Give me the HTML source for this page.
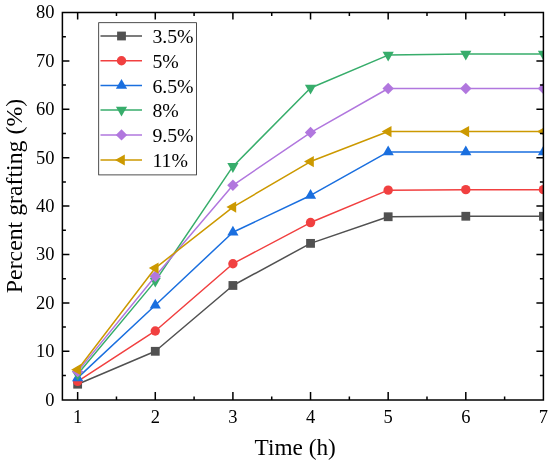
<!DOCTYPE html>
<html><head><meta charset="utf-8"><title>Percent grafting vs Time</title>
<style>html,body{margin:0;padding:0;background:#fff}svg{display:block}</style></head>
<body>
<svg width="550" height="463" viewBox="0 0 550 463" font-family="'Liberation Serif', serif" fill="#000">
<rect width="550" height="463" fill="#fff"/>
<defs><clipPath id="c"><rect x="62.4" y="12.5" width="481.0" height="387.5"/></clipPath></defs>
<g clip-path="url(#c)">
<polyline points="77.65,384.21 155.28,351.30 232.91,285.48 310.54,243.37 388.17,216.75 465.80,216.26 543.43,216.26" fill="none" stroke="#515151" stroke-width="1.5" stroke-linejoin="round"/>
<rect x="73.25" y="379.81" width="8.8" height="8.8" fill="#515151"/>
<rect x="150.88" y="346.90" width="8.8" height="8.8" fill="#515151"/>
<rect x="228.51" y="281.08" width="8.8" height="8.8" fill="#515151"/>
<rect x="306.14" y="238.97" width="8.8" height="8.8" fill="#515151"/>
<rect x="383.77" y="212.35" width="8.8" height="8.8" fill="#515151"/>
<rect x="461.40" y="211.86" width="8.8" height="8.8" fill="#515151"/>
<rect x="539.03" y="211.86" width="8.8" height="8.8" fill="#515151"/>
<polyline points="77.65,381.31 155.28,330.97 232.91,263.70 310.54,222.56 388.17,190.13 465.80,189.64 543.43,189.64" fill="none" stroke="#F14040" stroke-width="1.5" stroke-linejoin="round"/>
<circle cx="77.65" cy="381.31" r="4.70" fill="#F14040"/>
<circle cx="155.28" cy="330.97" r="4.70" fill="#F14040"/>
<circle cx="232.91" cy="263.70" r="4.70" fill="#F14040"/>
<circle cx="310.54" cy="222.56" r="4.70" fill="#F14040"/>
<circle cx="388.17" cy="190.13" r="4.70" fill="#F14040"/>
<circle cx="465.80" cy="189.64" r="4.70" fill="#F14040"/>
<circle cx="543.43" cy="189.64" r="4.70" fill="#F14040"/>
<polyline points="77.65,377.92 155.28,305.32 232.91,232.24 310.54,195.45 388.17,151.89 465.80,151.89 543.43,151.89" fill="none" stroke="#1A6FDF" stroke-width="1.5" stroke-linejoin="round"/>
<polygon points="77.65,371.42 83.25,381.22 72.05,381.22" fill="#1A6FDF"/>
<polygon points="155.28,298.82 160.88,308.62 149.68,308.62" fill="#1A6FDF"/>
<polygon points="232.91,225.74 238.51,235.54 227.31,235.54" fill="#1A6FDF"/>
<polygon points="310.54,188.95 316.14,198.75 304.94,198.75" fill="#1A6FDF"/>
<polygon points="388.17,145.39 393.77,155.19 382.57,155.19" fill="#1A6FDF"/>
<polygon points="465.80,145.39 471.40,155.19 460.20,155.19" fill="#1A6FDF"/>
<polygon points="543.43,145.39 549.03,155.19 537.83,155.19" fill="#1A6FDF"/>
<polyline points="77.65,374.29 155.28,281.12 232.91,166.41 310.54,88.00 388.17,55.09 465.80,54.12 543.43,54.12" fill="none" stroke="#37AD6B" stroke-width="1.5" stroke-linejoin="round"/>
<polygon points="77.65,380.79 83.25,370.99 72.05,370.99" fill="#37AD6B"/>
<polygon points="155.28,287.62 160.88,277.82 149.68,277.82" fill="#37AD6B"/>
<polygon points="232.91,172.91 238.51,163.11 227.31,163.11" fill="#37AD6B"/>
<polygon points="310.54,94.50 316.14,84.70 304.94,84.70" fill="#37AD6B"/>
<polygon points="388.17,61.59 393.77,51.79 382.57,51.79" fill="#37AD6B"/>
<polygon points="465.80,60.62 471.40,50.82 460.20,50.82" fill="#37AD6B"/>
<polygon points="543.43,60.62 549.03,50.82 537.83,50.82" fill="#37AD6B"/>
<polyline points="77.65,371.63 155.28,276.28 232.91,185.29 310.54,132.53 388.17,88.49 465.80,88.49 543.43,88.49" fill="none" stroke="#B177DE" stroke-width="1.5" stroke-linejoin="round"/>
<polygon points="77.65,365.93 83.35,371.63 77.65,377.33 71.95,371.63" fill="#B177DE"/>
<polygon points="155.28,270.58 160.98,276.28 155.28,281.98 149.58,276.28" fill="#B177DE"/>
<polygon points="232.91,179.59 238.61,185.29 232.91,190.99 227.21,185.29" fill="#B177DE"/>
<polygon points="310.54,126.83 316.24,132.53 310.54,138.23 304.84,132.53" fill="#B177DE"/>
<polygon points="388.17,82.79 393.87,88.49 388.17,94.19 382.47,88.49" fill="#B177DE"/>
<polygon points="465.80,82.79 471.50,88.49 465.80,94.19 460.10,88.49" fill="#B177DE"/>
<polygon points="543.43,82.79 549.13,88.49 543.43,94.19 537.73,88.49" fill="#B177DE"/>
<polyline points="77.65,369.69 155.28,268.05 232.91,207.07 310.54,161.57 388.17,131.56 465.80,131.56 543.43,131.56" fill="none" stroke="#CC9900" stroke-width="1.5" stroke-linejoin="round"/>
<polygon points="71.15,369.69 80.95,364.09 80.95,375.29" fill="#CC9900"/>
<polygon points="148.78,268.05 158.58,262.45 158.58,273.65" fill="#CC9900"/>
<polygon points="226.41,207.07 236.21,201.47 236.21,212.67" fill="#CC9900"/>
<polygon points="304.04,161.57 313.84,155.97 313.84,167.17" fill="#CC9900"/>
<polygon points="381.67,131.56 391.47,125.96 391.47,137.16" fill="#CC9900"/>
<polygon points="459.30,131.56 469.10,125.96 469.10,137.16" fill="#CC9900"/>
<polygon points="536.93,131.56 546.73,125.96 546.73,137.16" fill="#CC9900"/>
</g>
<rect x="62.4" y="12.5" width="481.0" height="387.5" fill="none" stroke="#000" stroke-width="1.5"/>
<path d="M77.65,400.0v-8M77.65,12.5v7M116.47,400.0v-3.5M116.47,12.5v3.5M155.28,400.0v-8M155.28,12.5v7M194.09,400.0v-3.5M194.09,12.5v3.5M232.91,400.0v-8M232.91,12.5v7M271.73,400.0v-3.5M271.73,12.5v3.5M310.54,400.0v-8M310.54,12.5v7M349.36,400.0v-3.5M349.36,12.5v3.5M388.17,400.0v-8M388.17,12.5v7M426.99,400.0v-3.5M426.99,12.5v3.5M465.80,400.0v-8M465.80,12.5v7M504.62,400.0v-3.5M504.62,12.5v3.5M62.4,375.50h3.5M543.4,375.50h-3.5M62.4,351.30h7M543.4,351.30h-7M62.4,327.10h3.5M543.4,327.10h-3.5M62.4,302.90h7M543.4,302.90h-7M62.4,278.70h3.5M543.4,278.70h-3.5M62.4,254.50h7M543.4,254.50h-7M62.4,230.30h3.5M543.4,230.30h-3.5M62.4,206.10h7M543.4,206.10h-7M62.4,181.90h3.5M543.4,181.90h-3.5M62.4,157.70h7M543.4,157.70h-7M62.4,133.50h3.5M543.4,133.50h-3.5M62.4,109.30h7M543.4,109.30h-7M62.4,85.10h3.5M543.4,85.10h-3.5M62.4,60.90h7M543.4,60.90h-7M62.4,36.70h3.5M543.4,36.70h-3.5" stroke="#000" stroke-width="1.5" fill="none"/>
<g font-size="19.9">
<text transform="translate(77.65,422.5) scale(0.93,1)" text-anchor="middle">1</text>
<text transform="translate(155.28,422.5) scale(0.93,1)" text-anchor="middle">2</text>
<text transform="translate(232.91,422.5) scale(0.93,1)" text-anchor="middle">3</text>
<text transform="translate(310.54,422.5) scale(0.93,1)" text-anchor="middle">4</text>
<text transform="translate(388.17,422.5) scale(0.93,1)" text-anchor="middle">5</text>
<text transform="translate(465.80,422.5) scale(0.93,1)" text-anchor="middle">6</text>
<text transform="translate(543.43,422.5) scale(0.93,1)" text-anchor="middle">7</text>
<text transform="translate(54.4,405.50) scale(0.93,1)" text-anchor="end">0</text>
<text transform="translate(54.4,357.10) scale(0.93,1)" text-anchor="end">10</text>
<text transform="translate(54.4,308.70) scale(0.93,1)" text-anchor="end">20</text>
<text transform="translate(54.4,260.30) scale(0.93,1)" text-anchor="end">30</text>
<text transform="translate(54.4,211.90) scale(0.93,1)" text-anchor="end">40</text>
<text transform="translate(54.4,163.50) scale(0.93,1)" text-anchor="end">50</text>
<text transform="translate(54.4,115.10) scale(0.93,1)" text-anchor="end">60</text>
<text transform="translate(54.4,66.70) scale(0.93,1)" text-anchor="end">70</text>
<text transform="translate(54.4,18.30) scale(0.93,1)" text-anchor="end">80</text>
</g>
<text transform="translate(295.2,454.7) scale(0.97,1)" font-size="24" text-anchor="middle">Time (h)</text>
<text transform="translate(22.2,196) rotate(-90)" font-size="23.8" text-anchor="middle">Percent grafting (%)</text>
<rect x="98.7" y="22.7" width="97.8" height="152.2" fill="#fff" stroke="#222" stroke-width="0.8"/>
<line x1="100.5" x2="142" y1="36.0" y2="36.0" stroke="#515151" stroke-width="1.5"/>
<rect x="117.10" y="31.60" width="8.8" height="8.8" fill="#515151"/>
<text x="152.4" y="43.10" font-size="19.8">3.5%</text>
<line x1="100.5" x2="142" y1="60.7" y2="60.7" stroke="#F14040" stroke-width="1.5"/>
<circle cx="121.50" cy="60.70" r="4.70" fill="#F14040"/>
<text x="152.4" y="67.80" font-size="19.8">5%</text>
<line x1="100.5" x2="142" y1="85.5" y2="85.5" stroke="#1A6FDF" stroke-width="1.5"/>
<polygon points="121.50,79.00 127.10,88.80 115.90,88.80" fill="#1A6FDF"/>
<text x="152.4" y="92.60" font-size="19.8">6.5%</text>
<line x1="100.5" x2="142" y1="110.1" y2="110.1" stroke="#37AD6B" stroke-width="1.5"/>
<polygon points="121.50,116.60 127.10,106.80 115.90,106.80" fill="#37AD6B"/>
<text x="152.4" y="117.20" font-size="19.8">8%</text>
<line x1="100.5" x2="142" y1="134.9" y2="134.9" stroke="#B177DE" stroke-width="1.5"/>
<polygon points="121.50,129.20 127.20,134.90 121.50,140.60 115.80,134.90" fill="#B177DE"/>
<text x="152.4" y="142.00" font-size="19.8">9.5%</text>
<line x1="100.5" x2="142" y1="160.0" y2="160.0" stroke="#CC9900" stroke-width="1.5"/>
<polygon points="115.00,160.00 124.80,154.40 124.80,165.60" fill="#CC9900"/>
<text x="152.4" y="167.10" font-size="19.8">11%</text>
</svg>
</body></html>
